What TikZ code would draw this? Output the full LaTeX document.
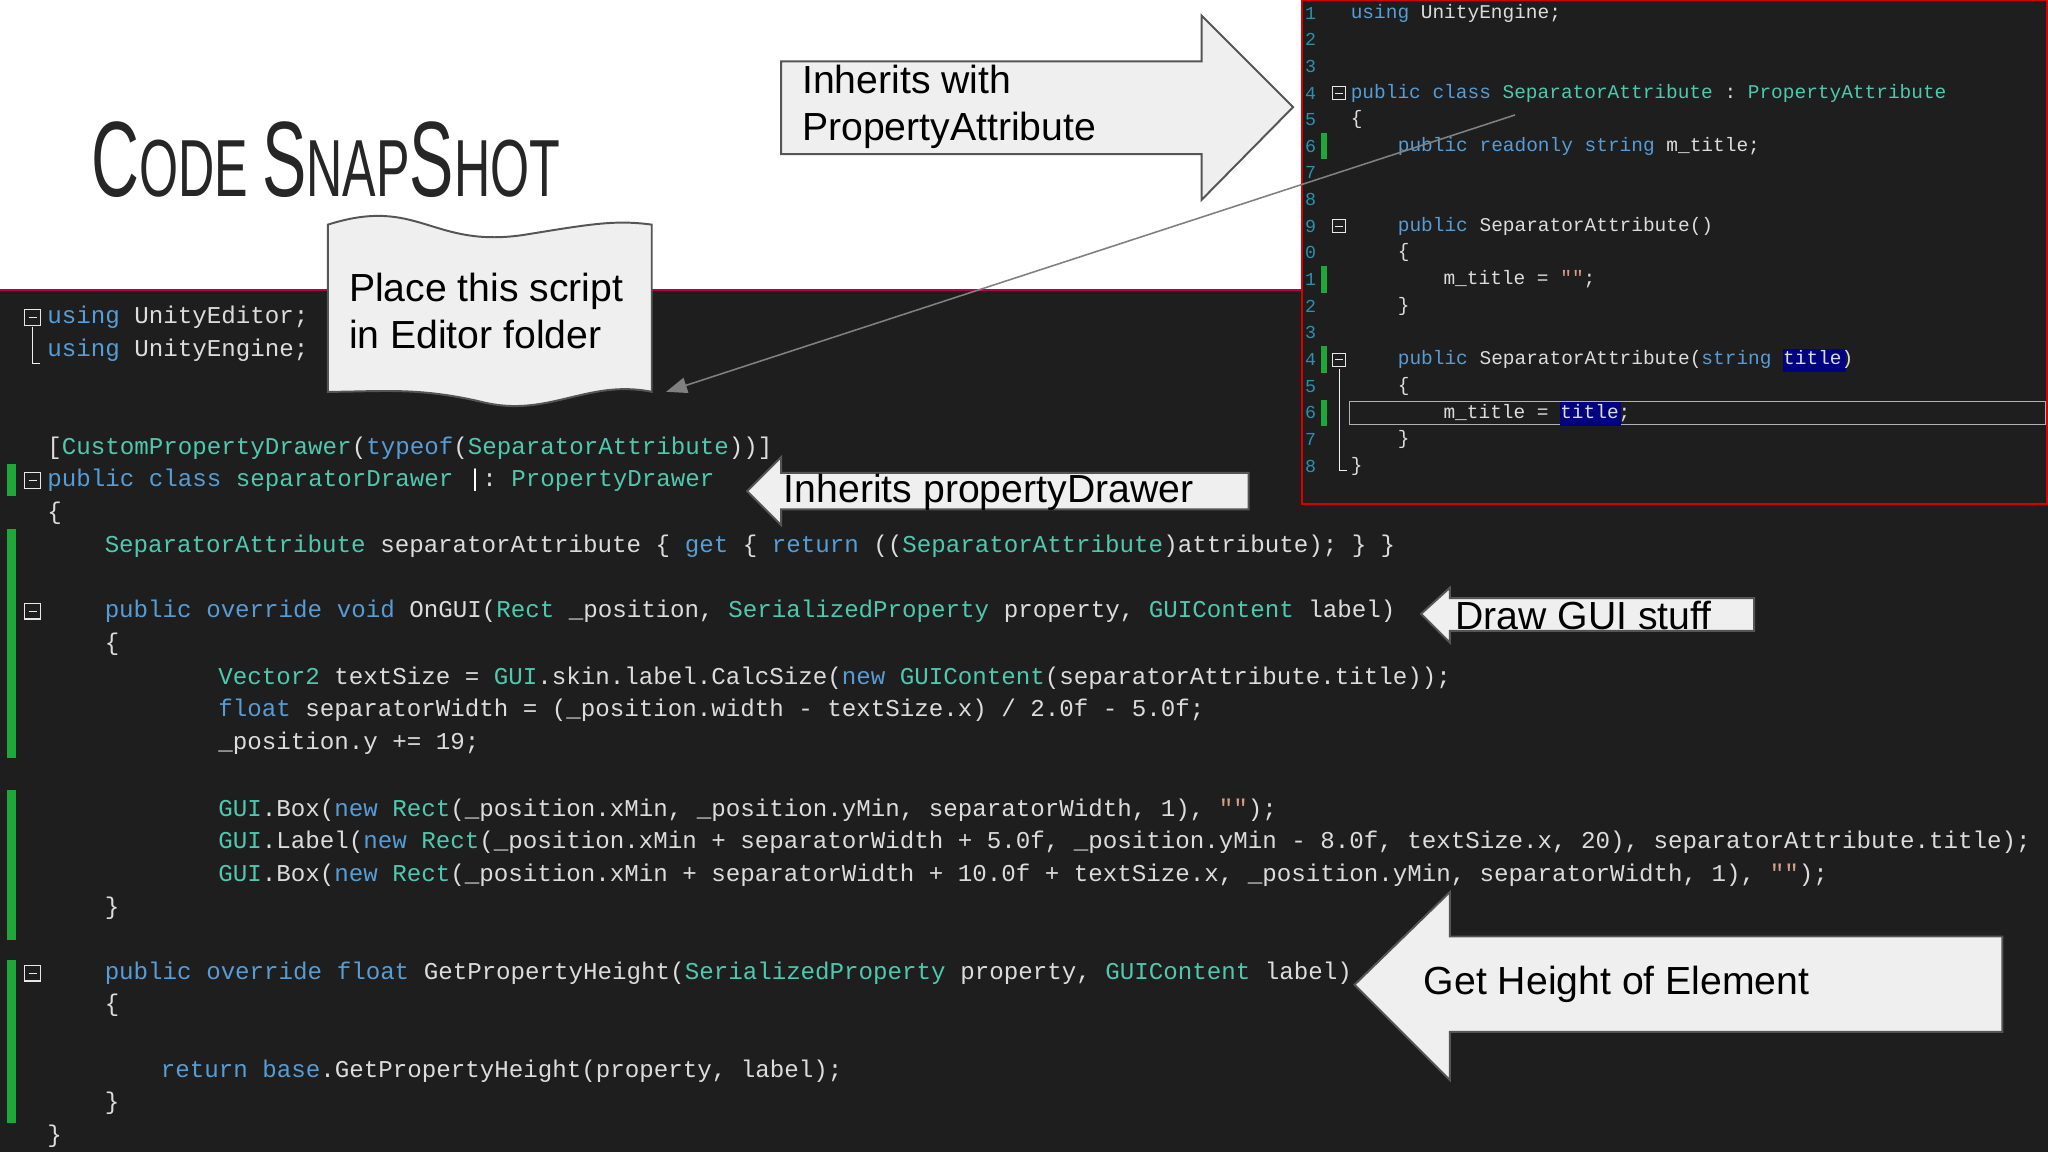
\documentclass[tikz,border=0pt]{standalone}
\usepackage{fontspec}
\setmainfont{Liberation Sans}
\setmonofont{Liberation Mono}
\usetikzlibrary{arrows.meta}
\definecolor{bg}{HTML}{1E1E1E}
\definecolor{kw}{HTML}{569CD6}
\definecolor{ty}{HTML}{4EC9B0}
\definecolor{tx}{HTML}{DCDCDC}
\definecolor{st}{HTML}{D69D85}
\definecolor{ln}{HTML}{2B91AF}
\definecolor{cfill}{HTML}{EFEFEF}
\definecolor{cdraw}{HTML}{555555}
\definecolor{gbar}{HTML}{1FA83A}
\newcommand\kw[1]{\textcolor{kw}{#1}}
\newcommand\ty[1]{\textcolor{ty}{#1}}
\newcommand\st[1]{\textcolor{st}{#1}}
\tikzset{
 code/.style={anchor=west,inner sep=0pt,text=tx,font=\ttfamily\fontsize{18.5}{20}\selectfont},
 rcode/.style={anchor=west,inner sep=0pt,text=tx,font=\ttfamily\fontsize{14.9}{16}\selectfont},
 lnum/.style={anchor=west,inner sep=0pt,text=ln,font=\ttfamily\fontsize{14}{16}\selectfont},
 callout/.style={fill=cfill,draw=cdraw,line width=1.5pt},
 ctext/.style={anchor=west,inner sep=0pt,font=\fontsize{30}{36}\selectfont,align=left}
}
\begin{document}
\begin{tikzpicture}[x=1pt,y=-1pt]
\useasboundingbox (0,0) rectangle (1568,882);
\fill[white] (0,0) rectangle (1568,882);
% main panel
\fill[bg] (0,222) rectangle (1553,882);
\draw[red!70!blue,line width=1.5pt] (0,222) -- (997,222);
\fill[bg] (1553,386) rectangle (1568,882);
% green bars
\foreach \a/\b in {355/380,405/580,605/720,735/860}{\fill[gbar] (5,\a) rectangle (12,\b);}
% fold boxes
\foreach \yy in {243,368,468,745}{\draw[tx!70,line width=1pt] (19,\yy-6) rectangle (31,\yy+6); \draw[tx!70] (22,\yy) -- (28,\yy);}
\draw[tx!40] (25,250) -- (25,278) -- (31,278);
% main code
\node[code] (m1) at (36,243) {\kw{using} UnityEditor;};
\node[code] (m2) at (36,268) {\kw{using} UnityEngine;};
\node[code] (m3) at (36,343) {[\ty{CustomPropertyDrawer}(\kw{typeof}(\ty{SeparatorAttribute}))]};
\node[code] (m4) at (36,368) {\kw{public} \kw{class} \ty{separatorDrawer} \textcolor{white}{|}: \ty{PropertyDrawer}};
\node[code] (m5) at (36,393) {\{};
\node[code] (m6) at (80,418) {\ty{SeparatorAttribute} separatorAttribute \{ \kw{get} \{ \kw{return} ((\ty{SeparatorAttribute})attribute); \} \}};
\node[code] (m7) at (80,468) {\kw{public} \kw{override} \kw{void} OnGUI(\ty{Rect} \_position, \ty{SerializedProperty} property, \ty{GUIContent} label)};
\node[code] (m8) at (80,493) {\{};
\node[code] (m9) at (167,519) {\ty{Vector2} textSize = \ty{GUI}.skin.label.CalcSize(\kw{new} \ty{GUIContent}(separatorAttribute.title));};
\node[code] (m10) at (167,544) {\kw{float} separatorWidth = (\_position.width - textSize.x) / 2.0f - 5.0f;};
\node[code] (m11) at (167,569) {\_position.y += 19;};
\node[code] (m12) at (167,620) {\ty{GUI}.Box(\kw{new} \ty{Rect}(\_position.xMin, \_position.yMin, separatorWidth, 1), \st{""});};
\node[code] (m13) at (167,645) {\ty{GUI}.Label(\kw{new} \ty{Rect}(\_position.xMin + separatorWidth + 5.0f, \_position.yMin - 8.0f, textSize.x, 20), separatorAttribute.title);};
\node[code] (m14) at (167,670) {\ty{GUI}.Box(\kw{new} \ty{Rect}(\_position.xMin + separatorWidth + 10.0f + textSize.x, \_position.yMin, separatorWidth, 1), \st{""});};
\node[code] (m15) at (80,695) {\}};
\node[code] (m16) at (80,745) {\kw{public} \kw{override} \kw{float} GetPropertyHeight(\ty{SerializedProperty} property, \ty{GUIContent} label)};
\node[code] (m17) at (80,770) {\{};
\node[code] (m18) at (123,820) {\kw{return} \kw{base}.GetPropertyHeight(property, label);};
\node[code] (m19) at (80,845) {\}};
\node[code] (m20) at (36,870) {\}};
% right panel
\fill[bg] (997,0) rectangle (1568,386);
\draw[red!85!black,line width=1.5pt] (997,0) rectangle (1567,386);
\foreach \n [count=\i] in {1,2,3,4,5,6,7,8,9,0,1,2,3,4,5,6,7,8}{\node[lnum] (ln\i) at (999,{10+20.4*(\i-1)}) {\n};}
\foreach \i in {6,11,14,16}{\fill[gbar] (1011,{10+20.4*(\i-1)-10}) rectangle (1016,{10+20.4*(\i-1)+10});}
\foreach \i in {4,9,14}{\draw[tx!70] (1020,{10+20.4*(\i-1)-5}) rectangle (1030,{10+20.4*(\i-1)+5}); \draw[tx!70] (1022,{10+20.4*(\i-1)}) -- (1028,{10+20.4*(\i-1)});}
\draw[tx!40] (1025,{10+20.4*13+7}) -- (1025,360) -- (1031,360);
\draw[gray!60] (1033,{10+20.4*15-9}) rectangle (1566,{10+20.4*15+9});
\fill[blue!50!black] (1365,267) rectangle (1413,285);
\fill[blue!50!black] (1194,308) rectangle (1241,326);
\node[rcode] (r1) at (1034,10) {\kw{using} UnityEngine;};
\node[rcode] (r4) at (1034,71.2) {\kw{public} \kw{class} \ty{SeparatorAttribute} : \ty{PropertyAttribute}};
\node[rcode] (r5) at (1034,91.6) {\{};
\node[rcode] (r6) at (1070,112) {\kw{public} \kw{readonly} \kw{string} m\_title;};
\node[rcode] (r9) at (1070,173.2) {\kw{public} SeparatorAttribute()};
\node[rcode] (r10) at (1070,193.6) {\{};
\node[rcode] (r11) at (1105,214) {m\_title = \st{""};};
\node[rcode] (r12) at (1070,234.4) {\}};
\node[rcode] (r14) at (1070,275.2) {\kw{public} SeparatorAttribute(\kw{string} title)};
\node[rcode] (r15) at (1070,295.6) {\{};
\node[rcode] (r16) at (1105,316) {m\_title = title;};
\node[rcode] (r17) at (1070,336.4) {\}};
\node[rcode] (r18) at (1034,356.8) {\}};
% title
\node[anchor=west,inner sep=0pt,text=black!85,xscale=0.62] (title) at (70,122) {\fontsize{82}{90}\selectfont C\fontsize{62}{70}\selectfont ODE \fontsize{82}{90}\selectfont S\fontsize{62}{70}\selectfont NAP\fontsize{82}{90}\selectfont S\fontsize{62}{70}\selectfont HOT};
% callout 1: right arrow
\draw[callout] (598,47) -- (920,47) -- (920,12) -- (990,82) -- (920,153) -- (920,118) -- (598,118) -- cycle;
\node[ctext] (c1) at (614,82) {Inherits with\\PropertyAttribute};
% document shape
\draw[callout] (251,172) .. controls (320,150) and (330,190) .. (400,180) .. controls (450,172) and (470,168) .. (499,172) -- (499,300) .. controls (450,290) and (420,320) .. (370,308) .. controls (320,296) and (290,300) .. (251,300) -- cycle;
\node[ctext] (doc) at (267,238) {Place this script\\in Editor folder};
\coordinate (lstart) at (1160,88);
\draw[gray,line width=1.2pt,-{Triangle[length=16pt,width=12pt]}] (lstart) -- (510,300);
% callout: inherits propertyDrawer
\draw[callout] (598,362) -- (956,362) -- (956,390) -- (598,390) -- (598,402) -- (572,376) -- (598,350) -- cycle;
\node[ctext] (c2) at (600,377) {Inherits propertyDrawer};
\draw[callout] (1110,458) -- (1343,458) -- (1343,483) -- (1110,483) -- (1110,492) -- (1088,470) -- (1110,450) -- cycle;
\node[ctext] (c3) at (1114,471) {Draw GUI stuff};
\draw[callout] (1110,717) -- (1533,717) -- (1533,790) -- (1110,790) -- (1110,827) -- (1037,754) -- (1110,683) -- cycle;
\node[ctext] (c4) at (1090,754) {Get Height of Element};
\end{tikzpicture}
\end{document}
